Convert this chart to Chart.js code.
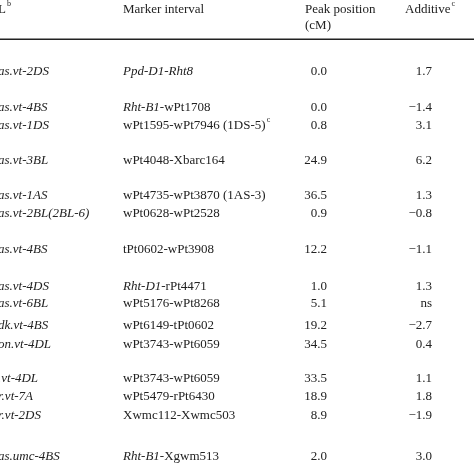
<!DOCTYPE html>
<html><head><meta charset="utf-8">
<script src="https://cdn.jsdelivr.net/npm/chart.js@4"></script>
<style>html,body{margin:0;padding:0;background:#fff}#w{width:474px;height:474px}</style>
</head><body><div id="w"><canvas id="c"></canvas></div>
<script>
const qtl = ["as.vt-2DS","as.vt-4BS","as.vt-1DS","as.vt-3BL","as.vt-1AS","as.vt-2BL(2BL-6)","as.vt-4BS","as.vt-4DS","as.vt-6BL","dk.vt-4BS","on.vt-4DL",".vt-4DL","r.vt-7A","r.vt-2DS","as.umc-4BS"];
const marker = [
 [["Ppd-D1-Rht8",1]],
 [["Rht-B1",1],["-wPt1708",0]],
 [["wPt1595-wPt7946 (1DS-5)",0],["c",2]],
 [["wPt4048-Xbarc164",0]],
 [["wPt4735-wPt3870 (1AS-3)",0]],
 [["wPt0628-wPt2528",0]],
 [["tPt0602-wPt3908",0]],
 [["Rht-D1",1],["-rPt4471",0]],
 [["wPt5176-wPt8268",0]],
 [["wPt6149-tPt0602",0]],
 [["wPt3743-wPt6059",0]],
 [["wPt3743-wPt6059",0]],
 [["wPt5479-rPt6430",0]],
 [["Xwmc112-Xwmc503",0]],
 [["Rht-B1",1],["-Xgwm513",0]]
];
const peak = ["0.0","0.0","0.8","24.9","36.5","0.9","12.2","1.0","5.1","19.2","34.5","33.5","18.9","8.9","2.0"];
const additive = ["1.7","\u22121.4","3.1","6.2","1.3","\u22120.8","\u22121.1","1.3","ns","\u22122.7","0.4","1.1","1.8","\u22121.9","3.0"];
const rowLine = [0,2,3,5,7,8,10,12.1,13.1,14.3,15.4,17.3,18.3,19.4,21.7];
const headers = [["L","b"],["Marker interval",""],["Peak position",""],["Additive","c"]];
const colX = [-2,123,327,432];

const pts = rowLine.map(r=>({x:0,y:r}));
const tablePlugin = {
 id:'table',
 afterDatasetsDraw(chart){
  const ctx=chart.ctx, xs=chart.scales.x, ys=chart.scales.y;
  const meta=chart.getDatasetMeta(0);
  const fam='"Liberation Serif", "DejaVu Serif", serif';
  ctx.save(); ctx.fillStyle='#222'; ctx.textBaseline='middle';
  const px=c=>xs.getPixelForValue(colX[c]);
  const yHead=ys.getPixelForValue(-3.55), yHead2=ys.getPixelForValue(-2.65);
  const sup=(t,x,y)=>{ctx.font='8px '+fam;ctx.textAlign='left';ctx.fillText(t,x,y-5);};
  ctx.font='13px '+fam; ctx.textAlign='left';
  ctx.fillText('L',px(0),yHead); sup('b',px(0)+ctx.measureText('L').width+1,yHead);
  ctx.font='13px '+fam; ctx.fillText('Marker interval',px(1),yHead);
  ctx.fillText('Peak position',305,yHead); ctx.fillText('(cM)',305,yHead2);
  ctx.fillText('Additive',405,yHead); const aw=ctx.measureText('Additive').width; sup('c',405+aw+1,yHead);
  const ly=ys.getPixelForValue(-1.85);
  ctx.strokeStyle='#222'; ctx.lineWidth=1.6; ctx.beginPath(); ctx.moveTo(0,ly); ctx.lineTo(474,ly); ctx.stroke();
  meta.data.forEach((el,i)=>{
   const y=el.y;
   ctx.font='italic 13px '+fam; ctx.textAlign='left'; ctx.fillText(qtl[i],px(0),y);
   let x=px(1);
   marker[i].forEach(([t,s])=>{
    if(s===2){sup(t,x+1,y);return;}
    ctx.font=(s?'italic ':'')+'13px '+fam; ctx.textAlign='left'; ctx.fillText(t,x,y); x+=ctx.measureText(t).width;
   });
   ctx.font='13px '+fam; ctx.textAlign='right';
   ctx.fillText(peak[i],px(2),y); ctx.fillText(additive[i],px(3),y);
  });
  ctx.restore();
 }
};
new Chart(document.getElementById('c'),{
 type:'scatter',
 data:{datasets:[{data:pts,pointRadius:0}]},
 options:{responsive:true,maintainAspectRatio:false,animation:false,
  layout:{padding:0},
  plugins:{legend:{display:false},tooltip:{enabled:false}},
  scales:{x:{display:false,min:0,max:474},
          y:{display:false,reverse:true,min:-4.07,max:22.7}}},
 plugins:[tablePlugin]
});
</script></body></html>
